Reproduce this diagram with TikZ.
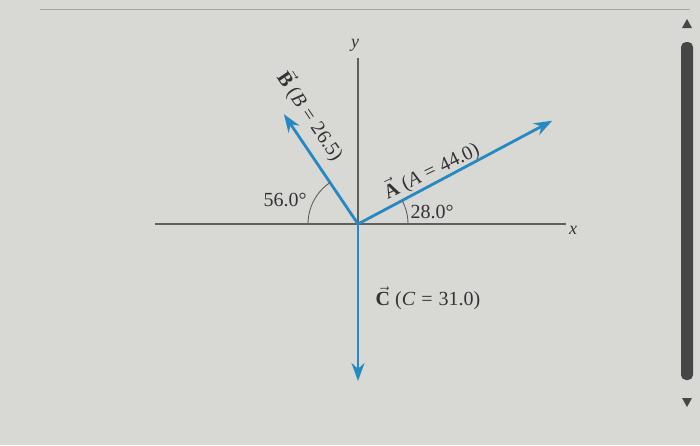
\documentclass[tikz,border=0pt]{standalone}
\usepackage{fontspec}
\setmainfont{Liberation Serif}
\usetikzlibrary{arrows.meta}
\definecolor{bg}{RGB}{216,216,213}
\definecolor{vecblue}{RGB}{40,136,192}
\definecolor{axisgray}{RGB}{95,95,95}
\definecolor{bardark}{RGB}{70,70,72}
\newcommand{\vbold}[1]{\ensuremath{\vec{\textbf{#1}}}}
\newcommand{\eqsp}{\hspace{0.3em}=\hspace{0.3em}}
\begin{document}
\begin{tikzpicture}[x=1pt,y=-1pt,
  axis/.style={draw=axisgray,line width=1.6pt},
  vecarrow/.style={draw=vecblue,line width=2.8pt,-{Stealth[length=18pt,width=13pt]}},
  lbl/.style={font=\fontsize{20}{23}\selectfont,text=black!80,inner sep=0pt},
  anglearc/.style={draw=axisgray,line width=0.9pt}]
\fill[bg] (0,0) rectangle (700,445);
\useasboundingbox (0,0) rectangle (700,445);
\draw[gray!70,line width=1pt] (40,9) -- (690,9);
% scrollbar
\fill[bardark,rounded corners=5pt] (681,42) rectangle (693,380);
\fill[bardark] (682,28) -- (692,28) -- (687,19) -- cycle;
\fill[bardark] (682,398) -- (692,398) -- (687,407) -- cycle;
% axes
\coordinate (O) at (358,224);
\coordinate (xl) at (155,224);
\coordinate (xr) at (566,224);
\coordinate (yt) at (358,58);
\draw[axis] (xl) -- (xr);
\draw[axis] (O) -- (yt);
\node[lbl,font=\fontsize{18}{22}\selectfont\itshape] (xlab) at (573,230) {x};
\node[lbl,font=\fontsize{18}{22}\selectfont\itshape] (ylab) at (355,45) {y};
% vectors
\coordinate (Atip) at (552.2,120.7);
\coordinate (Btip) at (283.9,114.2);
\coordinate (Ctip) at (358,381);
\draw[vecarrow] (O) -- (Atip);
\draw[vecarrow] (O) -- (Btip);
\draw[vecarrow] (O) -- (Ctip);
% angle arcs
\draw[anglearc] (408,224) arc[start angle=0,end angle=-28,radius=50];
\draw[anglearc] (308,224) arc[start angle=180,end angle=236,radius=50];
% labels
\node[lbl] (Alab) at (431,170) [rotate=26] {\vbold{A} (\textit{A}\eqsp44.0)};
\node[lbl] (Blab) at (311,116) [rotate=-56] {\vbold{B} (\textit{B}\eqsp26.5)};
\node[lbl] (Clab) at (428,298) {\vbold{C} (\textit{C}\eqsp31.0)};
\node[lbl] (a28) at (432,212) {28.0°};
\node[lbl] (a56) at (285,200) {56.0°};
\end{tikzpicture}
\end{document}
